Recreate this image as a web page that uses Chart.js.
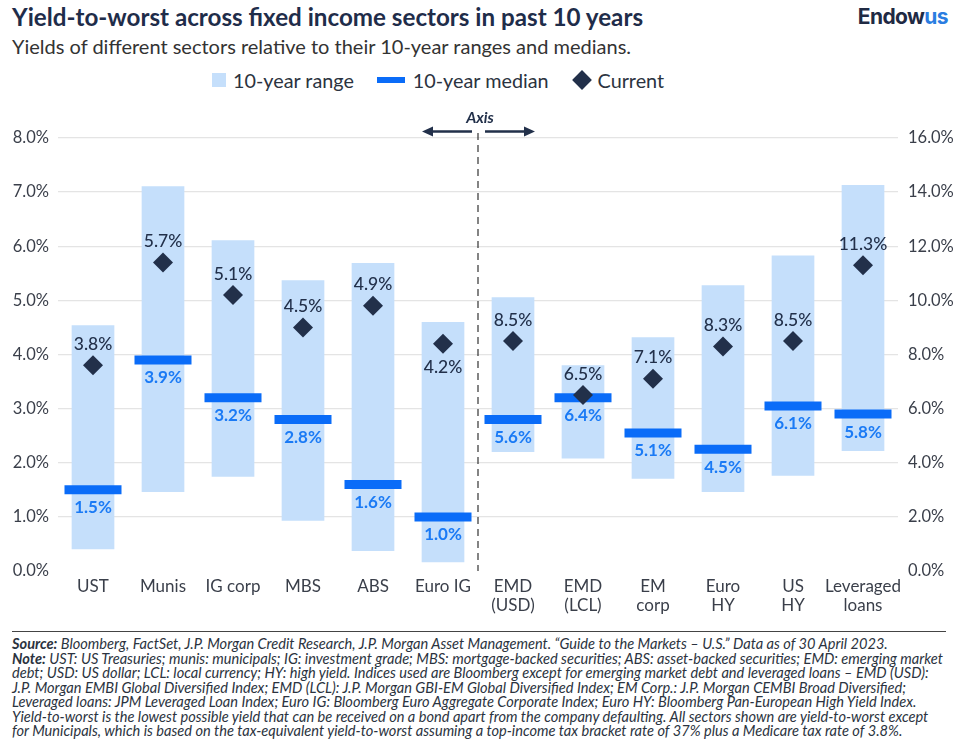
<!DOCTYPE html>
<html>
<head>
<meta charset="utf-8">
<script src="https://cdn.jsdelivr.net/npm/chart.js@4.4.0/dist/chart.umd.min.js"></script>
<style>
  body { margin: 0; width: 960px; height: 748px; background: #fff; font-family: Lato, sans-serif; position: relative; overflow: hidden; }
  #title { position: absolute; left: 12px; top: 2px; font-size: 24.2px; font-weight: bold; color: #1f2d4a; white-space: nowrap; }
  #subtitle { position: absolute; left: 12px; top: 34px; font-size: 20px; color: #333; white-space: nowrap; }
  #logo { position: absolute; right: 12px; top: 4px; font-size: 21px; font-weight: bold; color: #1f2a44; font-family: Inter, sans-serif; letter-spacing: -0.6px; }
  #logo span { color: #2a7de1; }
  #legend { position: absolute; left: 212px; top: 68px; display: flex; align-items: center; font-size: 19.8px; color: #2b3340; white-space: nowrap; }
  #legend .item { display: flex; align-items: center; margin-right: 23px; }
  #legend .sw-range { width: 14px; height: 14px; background: #c5dffb; margin-right: 7px; }
  #legend .sw-median { width: 28px; height: 6px; background: #0a6cf8; margin-right: 8px; }
  #legend .sw-current { width: 14px; height: 14px; background: #22304a; transform: rotate(45deg); margin: 0 9px 0 3px; }
  #chartbox { position: absolute; left: 0; top: 100px; width: 960px; height: 526px; }
  #rule { position: absolute; left: 12px; right: 14px; top: 631px; border-top: 1px solid #444; }
  #notes { position: absolute; left: 12px; top: 637px; font-size: 14.6px; font-style: italic; line-height: 14.5px; color: #2b3340; white-space: nowrap; }
</style>
</head>
<body>
<div id="title">Yield-to-worst across fixed income sectors in past 10 years</div>
<div id="subtitle">Yields of different sectors relative to their 10-year ranges and medians.</div>
<div id="logo">Endow<span>us</span></div>
<div id="legend">
  <div class="item"><div class="sw-range"></div>10-year range</div>
  <div class="item"><div class="sw-median"></div>10-year median</div>
  <div class="item"><div class="sw-current"></div>Current</div>
</div>
<div id="chartbox"><canvas id="ytw" width="960" height="526"></canvas></div>
<div id="rule"></div>
<div id="notes">
<b>Source:</b> Bloomberg, FactSet, J.P. Morgan Credit Research, J.P. Morgan Asset Management. “Guide to the Markets – U.S.” Data as of 30 April 2023.<br>
<b>Note:</b> UST: US Treasuries; munis: municipals; IG: investment grade; MBS: mortgage-backed securities; ABS: asset-backed securities; EMD: emerging market<br>
debt; USD: US dollar; LCL: local currency; HY: high yield. Indices used are Bloomberg except for emerging market debt and leveraged loans – EMD (USD):<br>
J.P. Morgan EMBI Global Diversified Index; EMD (LCL): J.P. Morgan GBI-EM Global Diversified Index; EM Corp.: J.P. Morgan CEMBI Broad Diversified;<br>
Leveraged loans: JPM Leveraged Loan Index; Euro IG: Bloomberg Euro Aggregate Corporate Index; Euro HY: Bloomberg Pan-European High Yield Index.<br>
Yield-to-worst is the lowest possible yield that can be received on a bond apart from the company defaulting. All sectors shown are yield-to-worst except<br>
for Municipals, which is based on the tax-equivalent yield-to-worst assuming a top-income tax bracket rate of 37% plus a Medicare tax rate of 3.8%.
</div>

<script>
const sectors = [['UST'], ['Munis'], ['IG corp'], ['MBS'], ['ABS'], ['Euro IG'],
  ['EMD', '(USD)'], ['EMD', '(LCL)'], ['EM', 'corp'], ['Euro', 'HY'], ['US', 'HY'], ['Leveraged', 'loans']];
// first six sectors, the rest off the right axis
const axisSide = ['L', 'L', 'L', 'L', 'L', 'L', 'R', 'R', 'R', 'R', 'R', 'R'];
const rangeLow = [0.40, 1.46, 1.74, 0.93, 0.37, 0.16, 4.40, 4.16, 3.41, 2.92, 3.52, 4.43];
const rangeHigh = [4.54, 7.11, 6.11, 5.37, 5.69, 4.60, 10.12, 7.60, 8.64, 10.56, 11.66, 14.26];
const median = [1.5, 3.9, 3.2, 2.8, 1.6, 1.0, 5.6, 6.4, 5.1, 4.5, 6.1, 5.8];
const current = [3.8, 5.7, 5.1, 4.5, 4.9, 4.2, 8.5, 6.5, 7.1, 8.3, 8.5, 11.3];
const currentLabelBelow = [false, false, false, false, false, true, false, false, false, false, false, false];
const leftTicks = { min: 0, max: 8, step: 1 };
const rightTicks = { min: 0, max: 16, step: 2 };

const RANGE_COLOR = '#c5dffb';
const MEDIAN_COLOR = '#0a6cf8';
const MEDIAN_TEXT = '#1a7af5';
const CURRENT_COLOR = '#22304a';
const TEXT = '#3a3f4a';

function onSide(arr, s) {
  return arr.map((v, i) => axisSide[i] === s ? v : null);
}
const rangePairs = rangeLow.map((v, i) => [v, rangeHigh[i]]);

function rangeSet(s) {
  return {
    type: 'bar', label: '10-year range', data: onSide(rangePairs, s),
    yAxisID: s === 'L' ? 'y' : 'y2', backgroundColor: RANGE_COLOR, borderWidth: 0,
    grouped: false, barPercentage: 0.61, categoryPercentage: 1, order: 3
  };
}
function medianSet(s) {
  return {
    type: 'line', label: '10-year median', data: onSide(median, s), yAxisID: s === 'L' ? 'y' : 'y2',
    showLine: false, pointStyle: 'line', pointRadius: 28.5, pointHoverRadius: 28.5,
    pointBorderWidth: 9, pointHoverBorderWidth: 9, pointBorderColor: MEDIAN_COLOR, order: 2
  };
}
function currentSet(s) {
  return {
    type: 'line', label: 'Current', data: onSide(current, s), yAxisID: s === 'L' ? 'y' : 'y2',
    showLine: false, pointStyle: 'rectRot', pointRadius: 10, pointHoverRadius: 10,
    pointBackgroundColor: CURRENT_COLOR, pointBorderWidth: 0, order: 1
  };
}

// value labels, the split line and the "Axis" marker
const annotate = {
  id: 'annotate',
  afterDatasetsDraw(chart) {
    const ctx = chart.ctx;
    const x = chart.scales.x;
    const area = chart.chartArea;
    ctx.save();
    ctx.textAlign = 'center';
    ctx.textBaseline = 'middle';
    chart.data.datasets.forEach((ds, di) => {
      const meta = chart.getDatasetMeta(di);
      meta.data.forEach((pt, i) => {
        const v = ds.data[i];
        if (v === null || v === undefined) return;
        if (ds.label === 'Current') {
          ctx.fillStyle = CURRENT_COLOR;
          ctx.font = '500 17.5px Lato';
          ctx.fillText(v.toFixed(1) + '%', pt.x, currentLabelBelow[i] ? pt.y + 24 : pt.y - 21);
        } else if (ds.label === '10-year median') {
          ctx.fillStyle = MEDIAN_TEXT;
          ctx.font = 'bold 17px Lato';
          ctx.fillText(v.toFixed(1) + '%', pt.x, pt.y + 18);
        }
      });
    });

    const split = x.getPixelForValue(5.5);
    ctx.strokeStyle = '#333';
    ctx.lineWidth = 1.2;
    ctx.setLineDash([7, 5]);
    ctx.beginPath();
    ctx.moveTo(split, area.top - 5);
    ctx.lineTo(split, area.bottom);
    ctx.stroke();
    ctx.setLineDash([]);

    const ay = area.top - 6.5;
    ctx.strokeStyle = CURRENT_COLOR;
    ctx.fillStyle = CURRENT_COLOR;
    ctx.lineWidth = 2.5;
    ctx.beginPath();
    ctx.moveTo(split - 6, ay); ctx.lineTo(split - 45, ay);
    ctx.moveTo(split + 7, ay); ctx.lineTo(split + 46, ay);
    ctx.stroke();
    ctx.beginPath();
    ctx.moveTo(split - 56, ay); ctx.lineTo(split - 45, ay - 5); ctx.lineTo(split - 45, ay + 5); ctx.closePath();
    ctx.moveTo(split + 57, ay); ctx.lineTo(split + 46, ay - 5); ctx.lineTo(split + 46, ay + 5); ctx.closePath();
    ctx.fill();
    ctx.font = 'italic bold 15.5px Lato';
    ctx.fillText('Axis', split + 2, ay - 14);
    ctx.restore();
  }
};

const ctx = document.getElementById('ytw');

new Chart(ctx, {
  data: {
    labels: sectors,
    datasets: [rangeSet('L'), rangeSet('R'), medianSet('L'), medianSet('R'), currentSet('L'), currentSet('R')]
  },
  plugins: [annotate],
  options: {
    responsive: false,
    animation: false,
    layout: { padding: { top: 38, bottom: 0, left: 0, right: 0 } },
    plugins: {
      legend: { display: false },
      tooltip: { enabled: false }
    },
    scales: {
      x: {
        grid: { display: false, drawTicks: false },
        border: { display: false },
        ticks: { color: TEXT, font: { family: 'Lato', size: 17, lineHeight: 1.06 }, padding: 7, maxRotation: 0, autoSkip: false },
        afterFit(scale) { scale.height = 55; }
      },
      y: {
        position: 'left',
        min: leftTicks.min, max: leftTicks.max,
        ticks: { stepSize: leftTicks.step, color: TEXT, padding: 9, font: { family: 'Lato', size: 16.5 },
          callback: v => v.toFixed(1) + '%' },
        grid: { drawTicks: false, lineWidth: 1.3, color: c => c.tick.value === 0 ? 'rgba(0,0,0,0)' : '#e4e4e4' },
        border: { display: false },
        afterFit(scale) { scale.width = 58; }
      },
      y2: {
        position: 'right',
        min: rightTicks.min, max: rightTicks.max,
        ticks: { stepSize: rightTicks.step, color: TEXT, padding: 10, font: { family: 'Lato', size: 16.5 },
          callback: v => v.toFixed(1) + '%' },
        grid: { display: false, drawTicks: false },
        border: { display: false },
        afterFit(scale) { scale.width = 62; }
      }
    }
  }
});
</script>
</body>
</html>
